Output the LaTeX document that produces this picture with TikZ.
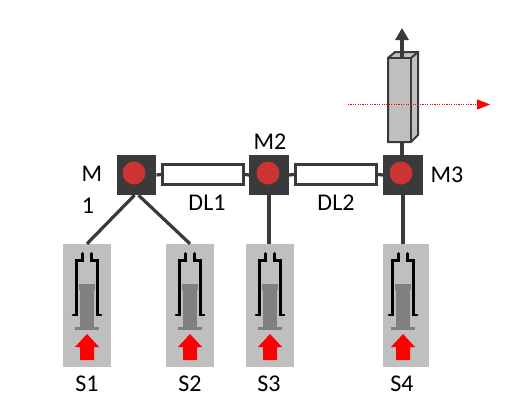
\documentclass[tikz,border=0pt]{standalone}
\usepackage{fontspec}
\setmainfont{Carlito}
\usetikzlibrary{arrows.meta}
\definecolor{dk}{HTML}{3A3A3A}
\definecolor{rd}{HTML}{CC3333}
\definecolor{pan}{HTML}{BFBFBF}
\definecolor{plg}{HTML}{808080}
\tikzset{
  x=1pt,y=-1pt,
  mixer/.style={draw=none,fill=dk,minimum width=39.5pt,minimum height=40pt,inner sep=0pt},
  dot/.style={circle,fill=rd,minimum size=23pt,inner sep=0pt},
  delay/.style={draw=dk,line width=3pt,fill=white,minimum width=81pt,minimum height=20pt,inner sep=0pt},
  panel/.style={fill=pan,minimum width=48pt,minimum height=123pt,inner sep=0pt},
  conn/.style={draw=dk,line width=3.2pt},
  lbl/.style={font=\fontsize{24}{24}\selectfont,text=black,inner sep=0pt},
}
\newcommand{\syr}[1]{%
  \begin{scope}[shift={(#1,0)}]
    \fill[plg] (-8,284) rectangle (8,290);
    \fill[plg] (-7,290) rectangle (7,327);
    \fill[plg] (-12,327) rectangle (12,329.5);
    \draw[black,line width=2.8pt,line cap=round,line join=miter]
      (-4.5,253.5) -- (-4.5,260.5) -- (-10.5,260.5) -- (-10.5,315) -- (-14,315);
    \draw[black,line width=2.8pt,line cap=round,line join=miter]
      (4.5,253.5) -- (4.5,260.5) -- (10.5,260.5) -- (10.5,315) -- (14,315);
    \fill[red] (0,334) -- (12,347) -- (7,347) -- (7,360) -- (-7,360) -- (-7,347) -- (-12,347) -- cycle;
  \end{scope}}
\begin{document}
\begin{tikzpicture}
\useasboundingbox (0,0) rectangle (512,405);
\fill[white] (0,0) rectangle (512,405);
% panels
\node[panel] (P1) at (87,305.5) {};
\node[panel] (P2) at (190,305.5) {};
\node[panel] (P3) at (270,305.5) {};
\node[panel,minimum width=46pt] (P4) at (405.5,305.5) {};
\syr{87}\syr{190}\syr{270}\syr{403}
% mixers
\node[mixer] (M1) at (136.5,175) {};
\node[mixer] (M2) at (269,175) {};
\node[mixer] (M3) at (403,175) {};
\node[dot] (C1) at (134,173) {};
\node[dot] (C2) at (268,173) {};
\node[dot] (C3) at (401,173) {};
\node[delay] (D1) at (203,174.5) {};
\node[delay] (D2) at (336,174.5) {};
% connectors
\draw[conn] (M1.east) -- (D1.west);
\draw[conn] (D1.east) -- (M2.west);
\draw[conn] (M2.east) -- (D2.west);
\draw[conn] (D2.east) -- (M3.west);
\draw[conn] (M1.south) ++(-2,0) -- (P1.north);
\draw[conn] (M1.south) ++(2,0) -- (P2.north);
\draw[conn] (M2.south) -- (M2.south |- P3.north);
\draw[conn] (M3.south) -- (M3.south |- P4.north);
% column
\coordinate (ctop) at (402,58);
\coordinate (cbot) at (402,142);
\coordinate (atip) at (402,28);
\draw[conn] (cbot) -- (cbot |- M3.north);
\fill[pan,draw=dk,line width=2pt] (388,58) -- (395,52) -- (418,52) -- (418,135) -- (411,142) -- (388,142) -- cycle;
\draw[dk,line width=2pt] (411,58) -- (418,52);
\draw[dk,line width=2pt] (388,58) -- (411,58) -- (411,142);
\draw[dk,line width=3.2pt,-{Triangle[length=12pt,width=13pt]}] (ctop) -- (atip);
\coordinate (ls) at (348,104.5);
\coordinate (le) at (490,104.5);
\draw[red,line width=1.3pt,dash pattern=on 1.2pt off 1.2pt,-{Triangle[length=13pt,width=10pt]}] (ls) -- (le);
% labels
\node[lbl] at (92,174) {M};
\node[lbl] at (88,206) {1};
\node[lbl] at (207,203) {DL1};
\node[lbl] at (270,142) {M2};
\node[lbl] at (336,203) {DL2};
\node[lbl] at (447,175) {M3};
\node[lbl] at (87,384) {S1};
\node[lbl] at (190,384) {S2};
\node[lbl] at (269,384) {S3};
\node[lbl] at (402,384) {S4};
\end{tikzpicture}
\end{document}
